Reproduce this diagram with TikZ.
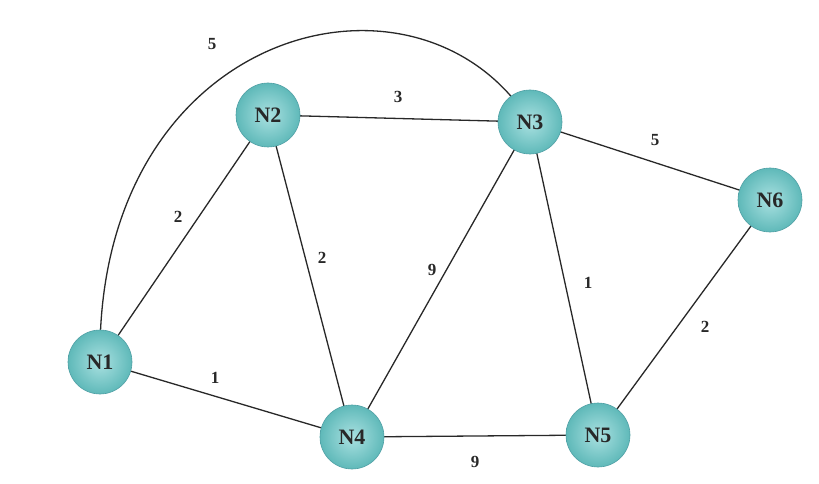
\documentclass[tikz,border=0pt]{standalone}
\usepackage{fontspec}
\setmainfont{Liberation Serif}
\definecolor{ndedge}{RGB}{80,160,165}
\definecolor{ndfill}{RGB}{95,185,185}
\definecolor{ndin}{RGB}{170,225,225}
\definecolor{ink}{RGB}{40,40,40}
\begin{document}
\begin{tikzpicture}[x=1pt,y=-1pt,
  nd/.style={circle,minimum size=64pt,inner sep=0pt,draw=ndedge,line width=0.6pt,
    inner color=ndin,outer color=ndfill,font=\fontsize{22}{24}\selectfont\bfseries,text=ink},
  ln/.style={line width=1.3pt,draw=ink},
  lb/.style={font=\fontsize{17}{19}\selectfont\bfseries,text=ink}]
\useasboundingbox (0,0) rectangle (819,484);
\fill[white] (0,0) rectangle (819,484);
\coordinate (p1) at (100,362);
\coordinate (p2) at (268,115);
\coordinate (p3) at (530,122);
\coordinate (p6) at (770,200);
\coordinate (p4) at (352,437);
\coordinate (p5) at (598,435);
\draw[ln] (p1) .. controls (95,25) and (420,-55) .. (p3);
\draw[ln] (p1)--(p2) (p1)--(p4) (p2)--(p3) (p2)--(p4) (p3)--(p4) (p3)--(p5) (p3)--(p6) (p4)--(p5) (p5)--(p6);
\node[nd] (N1) at (p1) {N1};
\node[nd] (N2) at (p2) {N2};
\node[nd] (N3) at (p3) {N3};
\node[nd] (N6) at (p6) {N6};
\node[nd] (N4) at (p4) {N4};
\node[nd] (N5) at (p5) {N5};
\node[lb] (l1) at (212,44) {5};
\node[lb] (l2) at (398,97) {3};
\node[lb] (l3) at (655,140) {5};
\node[lb] (l4) at (178,217) {2};
\node[lb] (l5) at (322,258) {2};
\node[lb] (l6) at (432,270) {9};
\node[lb] (l7) at (588,283) {1};
\node[lb] (l8) at (705,327) {2};
\node[lb] (l9) at (215,378) {1};
\node[lb] (l10) at (475,462) {9};
\end{tikzpicture}
\end{document}
